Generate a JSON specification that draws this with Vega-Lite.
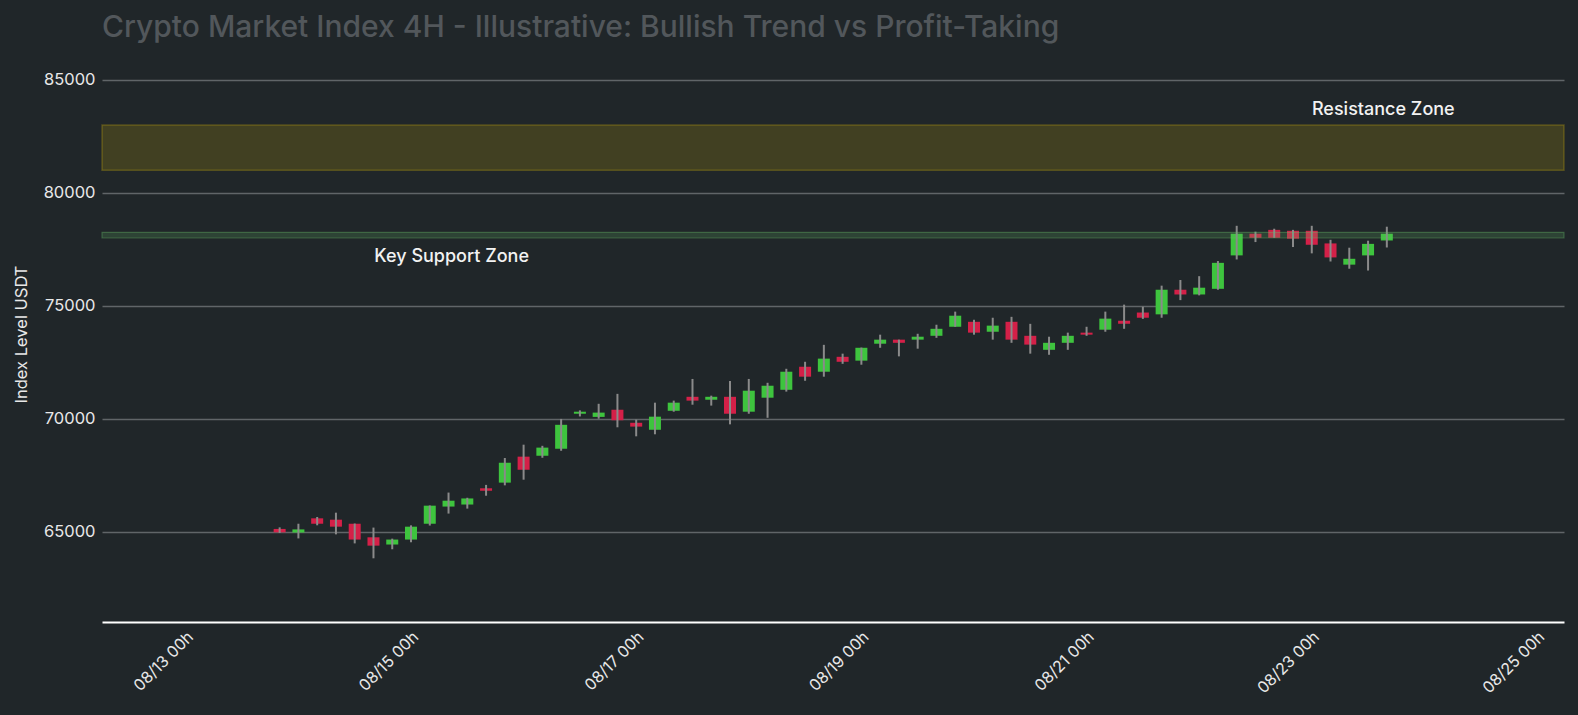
{
  "$schema": "https://vega.github.io/schema/vega-lite/v6.json",
  "width": 1462,
  "height": 576,
  "autosize": {"type": "none"},
  "padding": {"left": 102, "top": 46, "right": 14, "bottom": 93},
  "background": "#202629",
  "title": {
    "text": "Crypto Market Index 4H - Illustrative: Bullish Trend vs Profit-Taking",
    "anchor": "start",
    "frame": "group",
    "font": "Inter",
    "fontSize": 30,
    "fontWeight": 500,
    "color": "#52575b",
    "baseline": "top",
    "offset": 3
  },
  "datasets": {
    "candles": [
      {"t": "2024-08-13T18:00", "o": 65120, "h": 65190, "l": 64940, "c": 64970},
      {"t": "2024-08-13T22:00", "o": 64960, "h": 65350, "l": 64700, "c": 65100},
      {"t": "2024-08-14T02:00", "o": 65590, "h": 65650, "l": 65280, "c": 65350},
      {"t": "2024-08-14T06:00", "o": 65530, "h": 65840, "l": 64880, "c": 65220},
      {"t": "2024-08-14T10:00", "o": 65350, "h": 65360, "l": 64480, "c": 64650},
      {"t": "2024-08-14T14:00", "o": 64750, "h": 65180, "l": 63820, "c": 64380},
      {"t": "2024-08-14T18:00", "o": 64430, "h": 64690, "l": 64220, "c": 64650},
      {"t": "2024-08-14T22:00", "o": 64650, "h": 65280, "l": 64530, "c": 65220},
      {"t": "2024-08-15T02:00", "o": 65350, "h": 66160, "l": 65270, "c": 66150},
      {"t": "2024-08-15T06:00", "o": 66110, "h": 66730, "l": 65800, "c": 66370},
      {"t": "2024-08-15T10:00", "o": 66200, "h": 66500, "l": 66020, "c": 66470},
      {"t": "2024-08-15T14:00", "o": 66920, "h": 67070, "l": 66590, "c": 66810},
      {"t": "2024-08-15T18:00", "o": 67170, "h": 68260, "l": 67050, "c": 68050},
      {"t": "2024-08-15T22:00", "o": 68320, "h": 68850, "l": 67300, "c": 67740},
      {"t": "2024-08-16T02:00", "o": 68360, "h": 68800, "l": 68270, "c": 68720},
      {"t": "2024-08-16T06:00", "o": 68670, "h": 69990, "l": 68580, "c": 69730},
      {"t": "2024-08-16T10:00", "o": 70220, "h": 70370, "l": 70100, "c": 70310},
      {"t": "2024-08-16T14:00", "o": 70080, "h": 70660, "l": 70000, "c": 70270},
      {"t": "2024-08-16T18:00", "o": 70400, "h": 71100, "l": 69620, "c": 69930},
      {"t": "2024-08-16T22:00", "o": 69820, "h": 69960, "l": 69220, "c": 69650},
      {"t": "2024-08-17T02:00", "o": 69510, "h": 70710, "l": 69310, "c": 70090},
      {"t": "2024-08-17T06:00", "o": 70350, "h": 70800, "l": 70310, "c": 70710},
      {"t": "2024-08-17T10:00", "o": 70970, "h": 71760, "l": 70620, "c": 70800},
      {"t": "2024-08-17T14:00", "o": 70840, "h": 71020, "l": 70580, "c": 70970},
      {"t": "2024-08-17T18:00", "o": 70970, "h": 71670, "l": 69750, "c": 70220},
      {"t": "2024-08-17T22:00", "o": 70310, "h": 71760, "l": 70220, "c": 71240},
      {"t": "2024-08-18T02:00", "o": 70930, "h": 71590, "l": 70040, "c": 71460},
      {"t": "2024-08-18T06:00", "o": 71280, "h": 72210, "l": 71200, "c": 72080},
      {"t": "2024-08-18T10:00", "o": 72300, "h": 72520, "l": 71680, "c": 71860},
      {"t": "2024-08-18T14:00", "o": 72080, "h": 73270, "l": 71860, "c": 72660},
      {"t": "2024-08-18T18:00", "o": 72740, "h": 72880, "l": 72430, "c": 72520},
      {"t": "2024-08-18T22:00", "o": 72570, "h": 73150, "l": 72390, "c": 73140},
      {"t": "2024-08-19T02:00", "o": 73320, "h": 73720, "l": 73140, "c": 73500},
      {"t": "2024-08-19T06:00", "o": 73500, "h": 73500, "l": 72760, "c": 73360},
      {"t": "2024-08-19T10:00", "o": 73500, "h": 73760, "l": 73100, "c": 73630},
      {"t": "2024-08-19T14:00", "o": 73670, "h": 74160, "l": 73580, "c": 73980},
      {"t": "2024-08-19T18:00", "o": 74070, "h": 74740, "l": 74070, "c": 74560},
      {"t": "2024-08-19T22:00", "o": 74290, "h": 74380, "l": 73720, "c": 73810},
      {"t": "2024-08-20T02:00", "o": 73850, "h": 74470, "l": 73500, "c": 74120},
      {"t": "2024-08-20T06:00", "o": 74290, "h": 74510, "l": 73360, "c": 73500},
      {"t": "2024-08-20T10:00", "o": 73670, "h": 74200, "l": 72880, "c": 73280},
      {"t": "2024-08-20T14:00", "o": 73050, "h": 73630, "l": 72830, "c": 73360},
      {"t": "2024-08-20T18:00", "o": 73360, "h": 73810, "l": 73050, "c": 73670},
      {"t": "2024-08-20T22:00", "o": 73810, "h": 74070, "l": 73670, "c": 73720},
      {"t": "2024-08-21T02:00", "o": 73940, "h": 74740, "l": 73850, "c": 74430},
      {"t": "2024-08-21T06:00", "o": 74340, "h": 75050, "l": 73980, "c": 74200},
      {"t": "2024-08-21T10:00", "o": 74700, "h": 74960, "l": 74420, "c": 74470},
      {"t": "2024-08-21T14:00", "o": 74620, "h": 75890, "l": 74470, "c": 75710},
      {"t": "2024-08-21T18:00", "o": 75710, "h": 76140, "l": 75250, "c": 75500},
      {"t": "2024-08-21T22:00", "o": 75500, "h": 76310, "l": 75460, "c": 75800},
      {"t": "2024-08-22T02:00", "o": 75750, "h": 76980, "l": 75710, "c": 76900},
      {"t": "2024-08-22T06:00", "o": 77230, "h": 78540, "l": 77050, "c": 78190},
      {"t": "2024-08-22T10:00", "o": 78190, "h": 78280, "l": 77820, "c": 78010},
      {"t": "2024-08-22T14:00", "o": 78360, "h": 78410, "l": 78010, "c": 78010},
      {"t": "2024-08-22T18:00", "o": 78320, "h": 78360, "l": 77600, "c": 77970},
      {"t": "2024-08-22T22:00", "o": 78320, "h": 78540, "l": 77320, "c": 77700},
      {"t": "2024-08-23T02:00", "o": 77760, "h": 77920, "l": 76960, "c": 77140},
      {"t": "2024-08-23T06:00", "o": 76820, "h": 77570, "l": 76640, "c": 77080},
      {"t": "2024-08-23T10:00", "o": 77230, "h": 77880, "l": 76560, "c": 77740},
      {"t": "2024-08-23T14:00", "o": 77890, "h": 78500, "l": 77580, "c": 78190}
    ],
    "zones": [
      {"zone": "Resistance", "lo": 81000, "hi": 83000},
      {"zone": "Support", "lo": 78000, "hi": 78250}
    ],
    "labels": [
      {"label": "Resistance Zone", "t": "2024-08-23T13:15", "v": 83670},
      {"label": "Key Support Zone", "t": "2024-08-15T06:40", "v": 77140}
    ]
  },
  "layer": [
    {
      "data": {"name": "zones"},
      "transform": [{"filter": "datum.zone === 'Resistance'"}],
      "mark": {"type": "rect", "fill": "#ffd700", "fillOpacity": 0.15, "stroke": "#ffd700", "strokeOpacity": 0.22, "strokeWidth": 1.5},
      "encoding": {
        "y": {"field": "lo", "type": "quantitative"},
        "y2": {"field": "hi"}
      }
    },
    {
      "data": {"name": "candles"},
      "mark": {"type": "bar", "width": 12},
      "encoding": {
        "x": {
          "field": "t",
          "type": "temporal",
          "scale": {"domain": [
            {"year": 2024, "month": 8, "date": 12, "hours": 5, "minutes": 12},
            {"year": 2024, "month": 8, "date": 25, "hours": 2, "minutes": 42}
          ]},
          "title": null,
          "axis": {
            "format": "%m/%d %Hh",
            "tickCount": {"interval": "day", "step": 2},
            "labelAngle": -45,
            "labelAlign": "right",
            "labelBaseline": "middle",
            "labelOffset": -5,
            "labelFont": "Inter",
            "labelFontSize": 16,
            "labelColor": "#e8e8e8",
            "labelPadding": 12,
            "ticks": false,
            "tickSize": 0,
            "grid": false,
            "domainColor": "#ffffff",
            "domainWidth": 2
          }
        },
        "y": {
          "field": "o",
          "type": "quantitative",
          "scale": {"domain": [61000, 86500], "zero": false, "nice": false},
          "title": "Index Level USDT",
          "axis": {
            "values": [65000, 70000, 75000, 80000, 85000],
            "format": "d",
            "labelFont": "Inter",
            "labelFontSize": 16.5,
            "labelColor": "#e8e8e8",
            "labelPadding": 7,
            "ticks": false,
            "tickSize": 0,
            "domain": false,
            "grid": true,
            "gridColor": "#606568",
            "gridWidth": 1.3,
            "titleFont": "Inter",
            "titleFontSize": 16.5,
            "titleFontWeight": "normal",
            "titleColor": "#e8e8e8",
            "titlePadding": 14
          }
        },
        "y2": {"field": "c"},
        "color": {
          "condition": {"test": "datum.c >= datum.o", "value": "#3ec43e"},
          "value": "#d42048"
        }
      }
    },
    {
      "data": {"name": "candles"},
      "mark": {"type": "rule", "color": "#8a8a8a", "strokeWidth": 2},
      "encoding": {
        "x": {
          "field": "t",
          "type": "temporal",
          "scale": {"domain": [
            {"year": 2024, "month": 8, "date": 12, "hours": 5, "minutes": 12},
            {"year": 2024, "month": 8, "date": 25, "hours": 2, "minutes": 42}
          ]}
        },
        "y": {"field": "l", "type": "quantitative"},
        "y2": {"field": "h"}
      }
    },
    {
      "data": {"name": "zones"},
      "transform": [{"filter": "datum.zone === 'Support'"}],
      "mark": {"type": "rect", "fill": "#66bb6a", "fillOpacity": 0.2, "stroke": "#66bb6a", "strokeOpacity": 0.35, "strokeWidth": 1.2},
      "encoding": {
        "y": {"field": "lo", "type": "quantitative"},
        "y2": {"field": "hi"}
      }
    },
    {
      "data": {"name": "labels"},
      "mark": {"type": "text", "font": "Inter", "fontSize": 18, "fontWeight": 500, "color": "#f2f2f2", "align": "center", "baseline": "middle"},
      "encoding": {
        "x": {
          "field": "t",
          "type": "temporal",
          "scale": {"domain": [
            {"year": 2024, "month": 8, "date": 12, "hours": 5, "minutes": 12},
            {"year": 2024, "month": 8, "date": 25, "hours": 2, "minutes": 42}
          ]}
        },
        "y": {"field": "v", "type": "quantitative"},
        "text": {"field": "label"}
      }
    }
  ],
  "config": {"view": {"stroke": null}}
}
